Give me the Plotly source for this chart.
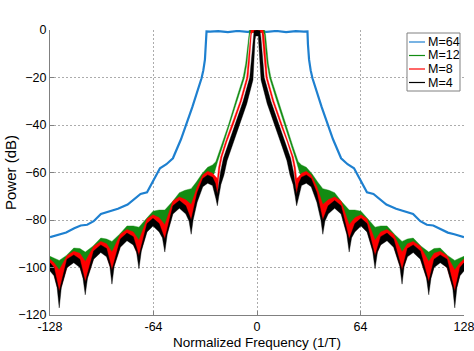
import plotly.graph_objects as go

# ---------------- data ----------------
freq_ticks = [-128, -64, 0, 64, 128]
power_ticks = [0, -20, -40, -60, -80, -100, -120]
series_names = ["M=64", "M=12", "M=8", "M=4"]
series_colors = ["#1e80d0", "#128c12", "#ff0000", "#000000"]
x_title = "Normalized Frequency (1/T)"
y_title = "Power (dB)"

# The spectra are symmetric about 0: values are given for f >= 0 and mirrored.
# M=64 (single trace)
m64_f = [0, 6, 12, 18, 24, 29, 31.2, 31.5, 32.2, 33.2, 34.3, 40, 47, 52, 56, 60, 64, 68, 72,
         76.5, 80, 86, 91, 96.5, 101, 105, 109, 113, 118, 122, 128]
m64_p = [-0.5, -0.8, -0.4, -0.9, -0.5, -0.7, -0.6, -6, -12.5, -17, -20.3, -32.5, -46, -54, -56.5,
         -58.2, -63.2, -68.3, -69, -71.5, -73.5, -75.3, -76.3, -77.5, -80.5, -82, -82.3, -83.5,
         -85.3, -86, -87.2]

# M=12 noisy band: upper (outer) and lower (inner) edges
m12_up_f = [0, 4.6, 5.3, 6.0, 7.0, 8.6, 13, 17.7, 22, 25.5, 27.5, 30.5, 34, 37.5, 40.7, 44.5, 48,
            52, 57, 60.5, 64.3, 68.5, 73, 76.5, 80.4, 85, 89.7, 93, 96.6, 101.5, 106.2, 109.5,
            113.3, 118, 122.3, 125.5, 128]
m12_up_p = [0, 0, -2, -8, -14, -20, -29.5, -40, -48.5, -55.5, -56.8, -57.8, -60.5, -64, -66.8,
            -67.5, -68.5, -72, -75.8, -75.8, -76.3, -79.5, -83, -82.5, -82.5, -86, -89, -88,
            -87.6, -91, -93.5, -92, -91.8, -95, -97, -96, -95.3]
m12_lo_f = [0, 4.0, 4.6, 5.3, 6.2, 7.7, 12.0, 16.7, 21.0, 24.4, 26.5, 30.5, 34, 37.5, 40.7, 44.5,
            48, 52, 57, 60.5, 64.3, 68.5, 73, 76.5, 80.4, 85, 89.7, 93, 96.6, 101.5, 106.2, 109.5,
            113.3, 118, 122.3, 125.5, 128]
m12_lo_p = [-1, -1, -2, -8, -14, -20, -29.5, -40, -48.5, -55.5, -60.5, -62, -65, -70, -74.5,
            -72.5, -73, -76.5, -83, -80.5, -80.5, -84, -89.5, -87, -86.5, -90.5, -95.5, -92.5,
            -91.5, -95.5, -100.5, -96.5, -95.7, -99.5, -104, -100.5, -99]

# M=8 noisy band
m8_up_f = [0, 3.7, 4.3, 4.9, 5.5, 6.4, 10.5, 15.6, 19.5, 22.5, 23.8, 24.5, 25.5, 27.5, 30.5, 33.5,
           37, 40.7, 44, 48, 52, 57, 60.5, 64.3, 68, 73, 76.5, 80.4, 84.5, 89.7, 93, 96.6, 101,
           106.2, 109.5, 113.3, 117.5, 122.3, 125.5, 128]
m8_up_p = [0, 0, -2, -8, -13, -20, -30, -40, -47, -53.5, -58, -62.5, -62, -60.3, -59.5, -61, -66,
           -73.5, -71.5, -70.3, -72, -82, -79, -77.8, -79.5, -88.5, -85, -84, -86, -93.5, -90,
           -89, -91, -97.5, -94, -93.2, -95, -101, -98, -96.5]
m8_lo_f = [0, 3.0, 3.5, 4.0, 4.6, 5.5, 9.6, 14.7, 18.6, 21.6, 22.9, 23.8, 24.5, 25.5, 27.5, 30.5,
           33.5, 37, 40.7, 44, 48, 52, 57, 60.5, 64.3, 68, 73, 76.5, 80.4, 84.5, 89.7, 93, 96.6,
           101, 106.2, 109.5, 113.3, 117.5, 122.3, 125.5, 128]
m8_lo_p = [-1, -1, -2, -8, -13, -20, -30, -40, -47, -53.5, -58, -63, -70, -66.5, -63.5, -63, -65,
           -70.5, -81, -76, -74, -76.5, -89, -84, -81.5, -84, -96, -90, -88, -91, -102, -95, -93,
           -96, -107, -99.5, -97.5, -100, -111, -103, -100.5]

# M=4 noisy band
m4_up_f = [0, 1.8, 2.4, 3.0, 3.6, 4.5, 8.6, 13.7, 17.8, 20.8, 22.6, 24.5, 25.8, 27.5, 30.5, 33.5,
           37, 40.7, 44, 48, 52, 57, 60.5, 64.3, 68, 73, 76.5, 80.4, 84.5, 89.7, 93, 96.6, 101,
           106.2, 109.5, 113.3, 117.5, 122.3, 125.5, 128]
m4_up_p = [0, -0.3, -3, -9, -14, -20, -30, -40, -48, -54, -60, -69, -64.5, -62, -61, -62.5, -68.5,
           -80, -74, -71.8, -74, -88, -81.5, -79.3, -81.5, -95, -87, -85.5, -88, -101, -92, -90.5,
           -93, -106, -96.5, -94.7, -96.5, -110, -100, -98]
m4_lo_f = [0, 0.8, 1.2, 1.5, 1.9, 2.5, 6.3, 11.3, 15.5, 18.5, 20.4, 22.3, 23.6, 24.5, 25.4, 27.5,
           30.5, 33.5, 37, 39.5, 40.7, 42, 44, 48, 52, 55.5, 57, 58.5, 60.5, 64.3, 68, 71.5, 73,
           74.5, 76.5, 80.4, 84.5, 88.3, 89.7, 91, 93, 96.6, 101, 104.8, 106.2, 107.6, 109.5,
           113.3, 117.5, 121, 122.3, 123.6, 125.5, 128]
m4_lo_p = [-2.5, -2.5, -4, -9, -14, -21, -31, -41, -49, -55, -61, -65, -70, -74, -71, -65.5,
           -64.5, -66, -72.5, -80, -86, -80.5, -77.5, -75, -77.5, -86, -93.5, -87.5, -85, -82.5,
           -85, -93, -100.5, -93.5, -90.5, -88.7, -91.5, -99.5, -107, -99.5, -95.5, -93.7, -96.5,
           -104.5, -111.5, -104.5, -100, -98, -100, -108.5, -117, -108.5, -103.5, -101.5]


# ---------------- helpers ----------------
def mirror_line(f, p):
    return [-v for v in f[:0:-1]] + list(f), list(p[:0:-1]) + list(p)


def band(fu, pu, fl, pl):
    x = [-v for v in fu[::-1]] + fu[1:] + fl[::-1] + [-v for v in fl[1:]]
    y = pu[::-1] + pu[1:] + pl[::-1] + pl[1:]
    return x, y


fig = go.Figure()

bx, by = mirror_line(m64_f, m64_p)
fig.add_trace(go.Scatter(x=bx, y=by, mode="lines", name=series_names[0],
                         line=dict(color=series_colors[0], width=2.2),
                         showlegend=False, hoverinfo="skip"))

bands = [
    (m12_up_f, m12_up_p, m12_lo_f, m12_lo_p),
    (m8_up_f, m8_up_p, m8_lo_f, m8_lo_p),
    (m4_up_f, m4_up_p, m4_lo_f, m4_lo_p),
]
for i, (fu, pu, fl, pl) in enumerate(bands, start=1):
    x, y = band(fu, pu, fl, pl)
    fig.add_trace(go.Scatter(x=x, y=y, mode="lines", fill="toself", name=series_names[i],
                             fillcolor=series_colors[i],
                             line=dict(color=series_colors[i], width=0.4),
                             showlegend=False, hoverinfo="skip"))

# ---------------- legend (drawn box) ----------------
L, R, T, B = 50, 10, 30, 36
W, H = 474, 351
pw, ph = W - L - R, H - T - B


def px(xp):
    return (xp - L) / pw


def py(yp):
    return (H - B - yp) / ph


shapes = [dict(type="rect", xref="paper", yref="paper", x0=px(407), x1=px(460), y0=py(91), y1=py(33),
               line=dict(color="#808080", width=1), fillcolor="white", layer="above")]
annotations = []
rows = [42, 55.5, 69, 82.5]
for name, color, ry in zip(series_names, series_colors, rows):
    shapes.append(dict(type="line", xref="paper", yref="paper", x0=px(409), x1=px(425),
                       y0=py(ry), y1=py(ry), line=dict(color=color, width=1.2), layer="above"))
    annotations.append(dict(xref="paper", yref="paper", x=px(425.5), y=py(ry), text=name,
                            showarrow=False, xanchor="left", yanchor="middle",
                            font=dict(size=12.5, color="black")))

font_family = "Liberation Sans, Arial, sans-serif"

# axis titles
annotations.append(dict(xref="paper", yref="paper", x=0.5, y=py(351), text=x_title,
                        showarrow=False, xanchor="center", yanchor="bottom", borderpad=0,
                        font=dict(size=13.5, color="black", family=font_family)))
annotations.append(dict(xref="paper", yref="paper", x=px(10), y=py(173), text=y_title,
                        showarrow=False, xanchor="center", yanchor="middle", textangle=-90,
                        font=dict(size=15, color="black", family=font_family)))

axis_common = dict(ticks="inside", ticklen=4, tickcolor="#808080", showline=True,
                   linecolor="#808080", linewidth=1, showgrid=True, gridcolor="#acacac",
                   griddash="2px,2px", gridwidth=1, zeroline=False, automargin=False,
                   ticklabeloverflow="allow",
                   tickfont=dict(size=12.5, color="black", family=font_family))

fig.update_layout(
    width=W, height=H,
    margin=dict(l=L, r=R, t=T, b=B),
    paper_bgcolor="white", plot_bgcolor="white",
    showlegend=False,
    font=dict(family=font_family, color="black"),
    xaxis=dict(range=[-128, 128], tickvals=freq_ticks, ticktext=[str(v) for v in freq_ticks],
               ticklabelstandoff=0, **axis_common),
    yaxis=dict(range=[-120, 0], tickvals=power_ticks, **axis_common),
    shapes=shapes,
    annotations=annotations,
)

fig.write_html("out.html")
